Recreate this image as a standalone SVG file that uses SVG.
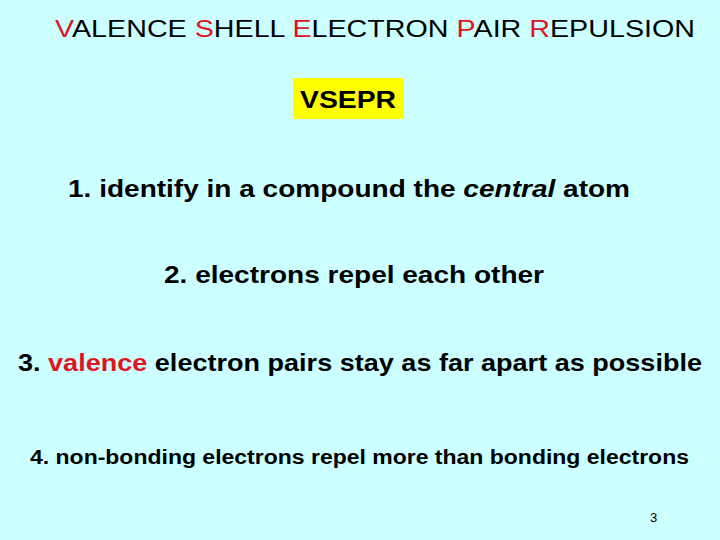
<svg xmlns="http://www.w3.org/2000/svg" width="720" height="540" viewBox="0 0 720 540">
<style>
text{font-family:"Liberation Sans",Arial,sans-serif;fill:#000}
.b{font-weight:bold;font-size:24px}
.r{fill:#e0141e}
</style>
<rect width="720" height="540" fill="#ccffff"/>
<text x="55" y="37" font-size="24" textLength="640" lengthAdjust="spacingAndGlyphs"><tspan class="r">V</tspan>ALENCE <tspan class="r">S</tspan>HELL <tspan class="r">E</tspan>LECTRON <tspan class="r">P</tspan>AIR <tspan class="r">R</tspan>EPULSION</text>
<rect x="293" y="78" width="111" height="41" fill="#ffff00"/>
<text class="b" x="300" y="108" textLength="96" lengthAdjust="spacingAndGlyphs">VSEPR</text>
<text class="b" x="68" y="197" textLength="562" lengthAdjust="spacingAndGlyphs">1. identify in a compound the <tspan font-style="italic">central</tspan> atom</text>
<text class="b" x="164" y="283" textLength="380" lengthAdjust="spacingAndGlyphs">2. electrons repel each other</text>
<text class="b" x="18" y="371" textLength="684" lengthAdjust="spacingAndGlyphs">3. <tspan class="r">valence</tspan> electron pairs stay as far apart as possible</text>
<text x="30" y="464" font-size="20" font-weight="bold" textLength="659" lengthAdjust="spacingAndGlyphs">4. non-bonding electrons repel more than bonding electrons</text>
<text x="650" y="522" font-size="13">3</text>
</svg>
